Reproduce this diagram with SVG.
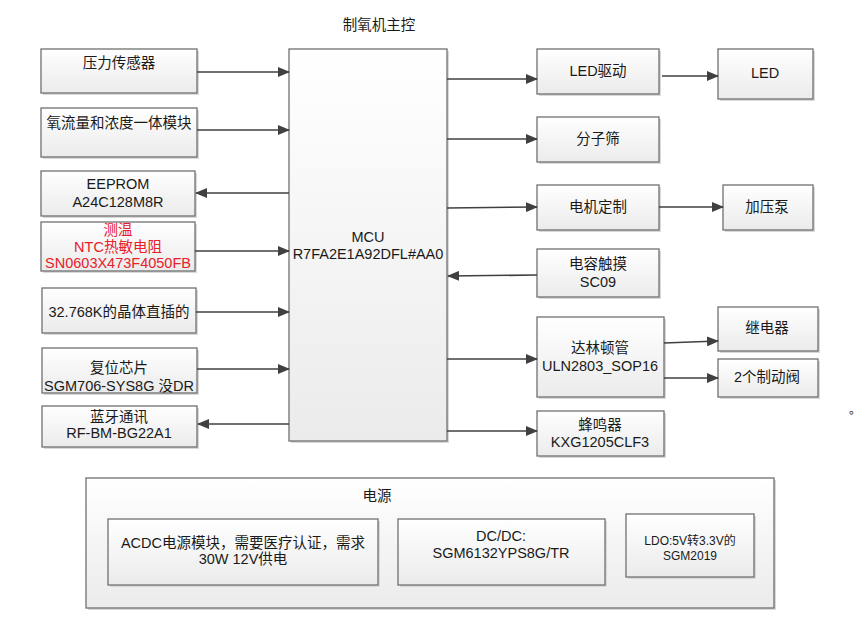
<svg xmlns="http://www.w3.org/2000/svg" width="865" height="627" viewBox="0 0 865 627">
<defs>
<linearGradient id="g" x1="0" y1="0" x2="0" y2="1">
<stop offset="0" stop-color="#ffffff"/>
<stop offset="1" stop-color="#ebebeb"/>
</linearGradient>
<marker id="ah" markerWidth="12" markerHeight="10" refX="11" refY="5" orient="auto" markerUnits="userSpaceOnUse">
<path d="M0,0 L12,5 L0,10 Z" fill="#404040"/>
</marker>
</defs>
<style>
rect.b{fill:url(#g);stroke:#707070;stroke-width:1.3}
rect.s{fill:#d9d9d9;stroke:none}
text{font-family:"Liberation Sans","Noto Sans CJK SC",sans-serif;font-size:14.5px;fill:#1a1a1a;text-anchor:middle;dominant-baseline:central}
text.r{fill:#e8202a}
text.sm{font-size:12px}
.c line{stroke:#404040;stroke-width:1.6;marker-end:url(#ah)}
</style>
<rect width="865" height="627" fill="#ffffff"/>

<text x="379" y="25">制氧机主控</text>

<g id="mcu"><rect class="s" x="291" y="51" width="158" height="392"/><rect class="b" x="289" y="49" width="158" height="392"/>
<text x="368" y="237">MCU</text><text x="368" y="254">R7FA2E1A92DFL#AA0</text></g>

<g id="pressure"><rect class="s" x="43" y="51" width="156" height="44"/><rect class="b" x="41" y="49" width="156" height="44"/><text x="119" y="63">压力传感器</text></g>
<g id="oxygen"><rect class="s" x="43" y="110" width="156" height="49"/><rect class="b" x="41" y="108" width="156" height="49"/><text x="119" y="123">氧流量和浓度一体模块</text></g>
<g id="eeprom"><rect class="s" x="43" y="173" width="154" height="45"/><rect class="b" x="41" y="171" width="154" height="45"/><text x="118" y="184">EEPROM</text><text x="118" y="202">A24C128M8R</text></g>
<g id="ntc"><rect class="s" x="43" y="224" width="154" height="49"/><rect class="b" x="41" y="222" width="154" height="49"/><text class="r" x="118" y="230">测温</text><text class="r" x="118" y="246.5">NTC热敏电阻</text><text class="r" x="118" y="263">SN0603X473F4050FB</text></g>
<g id="crystal"><rect class="s" x="44" y="290" width="154" height="45"/><rect class="b" x="42" y="288" width="154" height="45"/><text x="119" y="312">32.768K的晶体直插的</text></g>
<g id="reset"><rect class="s" x="44" y="350" width="155" height="45"/><rect class="b" x="42" y="348" width="155" height="45"/><text x="119" y="368">复位芯片</text><text x="119" y="386">SGM706-SYS8G 没DR</text></g>
<g id="ble"><rect class="s" x="44" y="408" width="155" height="41"/><rect class="b" x="42" y="406" width="155" height="41"/><text x="119" y="416.5">蓝牙通讯</text><text x="119" y="433">RF-BM-BG22A1</text></g>

<g id="leddrv"><rect class="s" x="539" y="51" width="122" height="45"/><rect class="b" x="537" y="49" width="122" height="45"/><text x="598" y="71">LED驱动</text></g>
<g id="led"><rect class="s" x="720" y="51" width="95" height="50"/><rect class="b" x="718" y="49" width="95" height="50"/><text x="765" y="73">LED</text></g>
<g id="sieve"><rect class="s" x="539" y="119" width="122" height="45"/><rect class="b" x="537" y="117" width="122" height="45"/><text x="598" y="139">分子筛</text></g>
<g id="motor"><rect class="s" x="539" y="187" width="122" height="45"/><rect class="b" x="537" y="185" width="122" height="45"/><text x="598" y="207">电机定制</text></g>
<g id="pump"><rect class="s" x="725" y="187" width="90" height="45"/><rect class="b" x="723" y="185" width="90" height="45"/><text x="767" y="207">加压泵</text></g>
<g id="touch"><rect class="s" x="539" y="251" width="122" height="48"/><rect class="b" x="537" y="249" width="122" height="48"/><text x="598" y="264">电容触摸</text><text x="598" y="282">SC09</text></g>
<g id="darlington"><rect class="s" x="539" y="319" width="127" height="80"/><rect class="b" x="537" y="317" width="127" height="80"/><text x="600" y="348">达林顿管</text><text x="600" y="366">ULN2803_SOP16</text></g>
<g id="relay"><rect class="s" x="720" y="309" width="100" height="44"/><rect class="b" x="718" y="307" width="100" height="44"/><text x="767" y="328">继电器</text></g>
<g id="valve"><rect class="s" x="720" y="361" width="100" height="38"/><rect class="b" x="718" y="359" width="100" height="38"/><text x="767" y="377">2个制动阀</text></g>
<g id="buzzer"><rect class="s" x="539" y="413" width="127" height="45"/><rect class="b" x="537" y="411" width="127" height="45"/><text x="600" y="425">蜂鸣器</text><text x="600" y="442">KXG1205CLF3</text></g>
<text x="855" y="410" class="sm">。</text>

<g id="power"><rect class="s" x="88" y="480" width="688" height="130"/><rect class="b" x="86" y="478" width="688" height="130"/><text x="377" y="496">电源</text>
<g id="acdc"><rect class="s" x="110" y="521" width="270" height="66"/><rect class="b" x="108" y="519" width="270" height="66"/><text x="243" y="542.5">ACDC电源模块，需要医疗认证，需求</text><text x="243" y="559">30W 12V供电</text></g>
<g id="dcdc"><rect class="s" x="400" y="521" width="207" height="66"/><rect class="b" x="398" y="519" width="207" height="66"/><text x="501" y="536">DC/DC:</text><text x="501" y="552.5">SGM6132YPS8G/TR</text></g>
<g id="ldo"><rect class="s" x="628" y="516" width="128" height="63"/><rect class="b" x="626" y="514" width="128" height="63"/><text class="sm" x="690" y="541">LDO:5V转3.3V的</text><text class="sm" x="690" y="556">SGM2019</text></g>
</g>

<g class="c" id="connectors">
<line x1="197" y1="72" x2="289" y2="72"/>
<line x1="197" y1="130" x2="289" y2="130"/>
<line x1="289" y1="193" x2="196" y2="193"/>
<line x1="195" y1="251" x2="289" y2="251"/>
<line x1="196" y1="312" x2="289" y2="312"/>
<line x1="197" y1="369" x2="289" y2="369"/>
<line x1="289" y1="424" x2="198" y2="424"/>
<line x1="447" y1="79" x2="537" y2="79"/>
<line x1="447" y1="139" x2="537" y2="139"/>
<line x1="447" y1="208" x2="537" y2="207"/>
<line x1="537" y1="275" x2="448" y2="276"/>
<line x1="447" y1="359" x2="537" y2="359"/>
<line x1="447" y1="431" x2="537" y2="431"/>
<line x1="662" y1="76" x2="718" y2="76"/>
<line x1="659" y1="207" x2="723" y2="207"/>
<line x1="664" y1="343" x2="718" y2="341"/>
<line x1="664" y1="378" x2="718" y2="378"/>
</g>
</svg>
